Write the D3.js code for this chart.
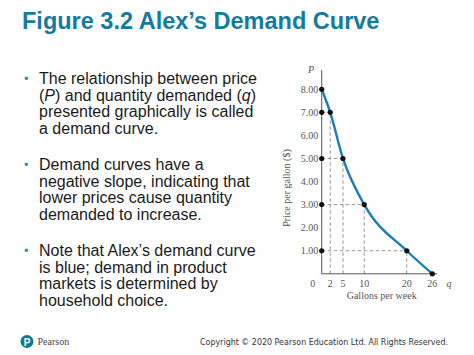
<!DOCTYPE html>
<html lang="en">
  <head>
    <meta charset="utf-8">
    <title>Figure 3.2 Alex's Demand Curve</title>
    <script src="https://d3js.org/d3.v7.min.js"></script>
    <style>
      body { margin: 0; background: #fff; }
      svg { display: block; }
    </style>
  </head>
  <body>
    <svg width="474" height="355"></svg>
    <script type="text/javascript">
      // chart data
      var quantities = [0, 2, 5, 10, 20, 26];
      var prices = [8, 7, 5, 3, 1, 0];
      var priceTicks = [1, 2, 3, 4, 5, 6, 7, 8];
      var quantityTicks = [2, 5, 10, 20, 26];

      // slide text
      var titleText = "Figure 3.2 Alex\u2019s Demand Curve";
      var bullets = [
        [["The relationship between price"], ["(", {i: "P"}, ") and quantity demanded (", {i: "q"}, ")"], ["presented graphically is called"], ["a demand curve."]],
        [["Demand curves have a"], ["negative slope, indicating that"], ["lower prices cause quantity"], ["demanded to increase."]],
        [["Note that Alex\u2019s demand curve"], ["is blue; demand in product"], ["markets is determined by"], ["household choice."]]
      ];

      var svg = d3.select("svg");
      var teal = "#137b9f";

      svg.append("text")
          .attr("x", 22)
          .attr("y", 29)
          .attr("font-family", "Liberation Sans, Arial, sans-serif")
          .attr("font-weight", "bold")
          .attr("font-size", 23.5)
          .attr("fill", teal)
          .text(titleText);

      // bullets
      var starts = [84, 170, 256];
      var lineH = 16.5;
      bullets.forEach(function(lines, b) {
        svg.append("text")
            .attr("x", 24)
            .attr("y", starts[b] - 1)
            .attr("font-family", "Liberation Sans, Arial, sans-serif")
            .attr("font-size", 13)
            .attr("fill", "#3a8fb3")
            .text("\u2022");
        lines.forEach(function(parts, i) {
          var t = svg.append("text")
              .attr("x", 39)
              .attr("y", starts[b] + i * lineH)
              .attr("font-family", "Liberation Sans, Arial, sans-serif")
              .attr("font-size", 16)
              .attr("fill", "#1a1a1a");
          parts.forEach(function(p) {
            if (typeof p === "string") t.append("tspan").text(p);
            else t.append("tspan").attr("font-style", "italic").text(p.i);
          });
        });
      });

      // chart
      var x = d3.scaleLinear().domain([0, 26]).range([321.7, 432.3]);
      var y = d3.scaleLinear().domain([0, 8]).range([273.8, 89.3]);
      var serif = "Liberation Serif, Times New Roman, serif";
      var fs = 10;
      var g = svg.append("g");

      var pts = quantities.map(function(q, i) { return {q: q, p: prices[i]}; });

      // dashed guides
      pts.filter(function(d) { return d.q > 0 && d.p > 0; }).forEach(function(d) {
        g.append("line")
            .attr("x1", x(0)).attr("y1", y(d.p))
            .attr("x2", x(d.q)).attr("y2", y(d.p))
            .attr("stroke", "#8a8a8a").attr("stroke-width", 0.9)
            .attr("stroke-dasharray", "3.5,2.5");
        g.append("line")
            .attr("x1", x(d.q)).attr("y1", y(0))
            .attr("x2", x(d.q)).attr("y2", y(d.p))
            .attr("stroke", "#8a8a8a").attr("stroke-width", 0.9)
            .attr("stroke-dasharray", "3.5,2.5");
      });

      // axes
      g.append("line")
          .attr("x1", x(0)).attr("y1", 70)
          .attr("x2", x(0)).attr("y2", y(0))
          .attr("stroke", "#555").attr("stroke-width", 1);
      g.append("line")
          .attr("x1", x(0)).attr("y1", y(0))
          .attr("x2", 437).attr("y2", y(0))
          .attr("stroke", "#555").attr("stroke-width", 1);

      g.selectAll(".ytick")
          .data(priceTicks)
          .enter().append("text")
          .attr("class", "ytick")
          .attr("x", x(0) - 3.5)
          .attr("y", function(d) { return y(d) + 3.3; })
          .attr("text-anchor", "end")
          .attr("font-family", serif)
          .attr("font-size", fs)
          .attr("fill", "#555")
          .text(function(d) { return d3.format(".2f")(d); });

      g.selectAll(".xtick")
          .data(quantityTicks)
          .enter().append("text")
          .attr("class", "xtick")
          .attr("x", function(d) { return x(d); })
          .attr("y", 286.5)
          .attr("text-anchor", "middle")
          .attr("font-family", serif)
          .attr("font-size", fs)
          .attr("fill", "#555")
          .text(function(d) { return d; });

      g.append("text")
          .attr("x", x(0) - 9).attr("y", 286.5)
          .attr("text-anchor", "middle")
          .attr("font-family", serif).attr("font-size", fs).attr("fill", "#555")
          .text("0");

      g.append("text")
          .attr("x", 311).attr("y", 73)
          .attr("text-anchor", "middle")
          .attr("font-family", serif).attr("font-style", "italic")
          .attr("font-size", fs).attr("fill", "#555")
          .text("P");
      g.append("text")
          .attr("x", 449).attr("y", 286.5)
          .attr("text-anchor", "middle")
          .attr("font-family", serif).attr("font-style", "italic")
          .attr("font-size", fs).attr("fill", "#555")
          .text("q");

      g.append("text")
          .attr("x", 381.7).attr("y", 299)
          .attr("text-anchor", "middle")
          .attr("font-family", serif).attr("font-size", fs).attr("fill", "#555")
          .text("Gallons per week");
      g.append("text")
          .attr("transform", "translate(290,188) rotate(-90)")
          .attr("text-anchor", "middle")
          .attr("font-family", serif).attr("font-size", fs).attr("fill", "#555")
          .text("Price per gallon ($)");

      // demand curve
      var line = d3.line()
          .x(function(d) { return x(d.q); })
          .y(function(d) { return y(d.p); })
          .curve(d3.curveMonotoneX);
      g.append("path")
          .datum(pts)
          .attr("d", line)
          .attr("fill", "none")
          .attr("stroke", "#1a7db5")
          .attr("stroke-width", 2.4);

      // dots on the price axis and on the curve
      g.selectAll(".adot")
          .data(pts.filter(function(d) { return d.q > 0 && d.p > 0; }))
          .enter().append("circle")
          .attr("class", "adot")
          .attr("cx", x(0))
          .attr("cy", function(d) { return y(d.p); })
          .attr("r", 2.6)
          .attr("fill", "#111");
      g.selectAll(".cdot")
          .data(pts)
          .enter().append("circle")
          .attr("class", "cdot")
          .attr("cx", function(d) { return x(d.q); })
          .attr("cy", function(d) { return y(d.p); })
          .attr("r", 2.6)
          .attr("fill", "#111");

      // footer
      svg.append("circle")
          .attr("cx", 27).attr("cy", 341.5).attr("r", 6.5)
          .attr("fill", "#0e7a8f");
      svg.append("text")
          .attr("x", 27).attr("y", 345.5)
          .attr("text-anchor", "middle")
          .attr("font-family", "Liberation Sans, Arial, sans-serif")
          .attr("font-weight", "bold")
          .attr("font-size", 10).attr("fill", "#fff")
          .text("P");
      svg.append("text")
          .attr("x", 37.5).attr("y", 345)
          .attr("font-family", serif).attr("font-size", 10).attr("fill", "#444")
          .text("Pearson");
      svg.append("text")
          .attr("x", 200).attr("y", 345)
          .attr("font-family", "DejaVu Sans, Verdana, sans-serif")
          .attr("font-size", 8.5).attr("fill", "#333")
          .attr("textLength", 248).attr("lengthAdjust", "spacingAndGlyphs")
          .text("Copyright \u00A9 2020 Pearson Education Ltd. All Rights Reserved.");
    </script>
  </body>
</html>
